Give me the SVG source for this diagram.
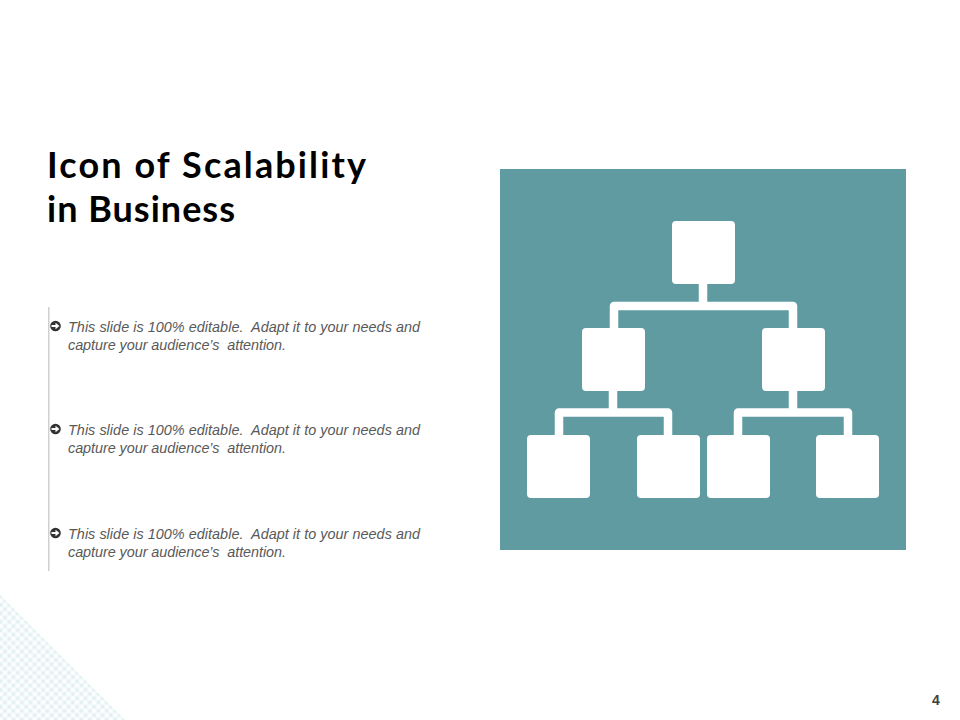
<svg xmlns="http://www.w3.org/2000/svg" width="960" height="720" viewBox="0 0 960 720">
<style>
.t{font-family:Lato,"Liberation Sans",sans-serif;font-size:36px;font-weight:700;fill:#000}
.b{font-family:"Liberation Sans",Arial,sans-serif;font-size:14.400px;font-style:italic;fill:#595959;white-space:pre}
.n{fill:#fff}
.c{fill:none;stroke:#fff;stroke-width:8.500;stroke-linejoin:round}
</style>
<defs>
<pattern id="dots" width="6" height="6" patternUnits="userSpaceOnUse" patternTransform="rotate(45 0 595)">
<rect width="6" height="6" fill="#f3f9fa"/>
<rect width="3" height="3" fill="#e1f0f2"/>
<rect x="3" y="3" width="3" height="3" fill="#fdfefe"/>
</pattern>
<g id="bul">
<circle cx="55.500" cy="0" r="5.300" fill="#333"/>
<path d="M51.500 -1H55.500V-3.200L59.500 0L55.500 3.200V1H51.500Z" fill="#fff"/>
</g>
</defs>
<rect width="960" height="720" fill="#fff"/>
<polygon points="0,595 125,720 0,720" fill="url(#dots)"/>
<text class="t" x="47" y="178" textLength="319">Icon of Scalability</text>
<text class="t" x="47" y="222" textLength="188">in Business</text>
<rect x="48" y="307" width="1.500" height="264" fill="#d0d0d0"/>
<g id="bullet-1">
<use href="#bul" y="326"/>
<text class="b" x="68" y="332" textLength="352">This slide is 100% editable.  Adapt it to your needs and</text>
<text class="b" x="68" y="350" textLength="218">capture your audience’s  attention.</text>
</g>
<g id="bullet-2">
<use href="#bul" y="429"/>
<text class="b" x="68" y="435" textLength="352">This slide is 100% editable.  Adapt it to your needs and</text>
<text class="b" x="68" y="453" textLength="218">capture your audience’s  attention.</text>
</g>
<g id="bullet-3">
<use href="#bul" y="533"/>
<text class="b" x="68" y="539" textLength="352">This slide is 100% editable.  Adapt it to your needs and</text>
<text class="b" x="68" y="557" textLength="218">capture your audience’s  attention.</text>
</g>
<rect id="panel" x="500" y="169" width="406" height="381" fill="#5f9ba1"/>
<g id="connectors">
<path class="c" d="M703 284V306M614 328V306H793V328"/>
<path class="c" d="M613 391V412.500M559 435V412.500H668V435"/>
<path class="c" d="M793 391V412.500M738 435V412.500H848V435"/>
</g>
<g id="node-top"><rect class="n" x="672" y="221" width="63" height="63" rx="4"/></g>
<g id="node-left"><rect class="n" x="582" y="328" width="63" height="63" rx="4"/></g>
<g id="node-right"><rect class="n" x="762" y="328" width="63" height="63" rx="4"/></g>
<g id="node-ll"><rect class="n" x="527" y="435" width="63" height="63" rx="4"/></g>
<g id="node-lr"><rect class="n" x="637" y="435" width="63" height="63" rx="4"/></g>
<g id="node-rl"><rect class="n" x="707" y="435" width="63" height="63" rx="4"/></g>
<g id="node-rr"><rect class="n" x="816" y="435" width="63" height="63" rx="4"/></g>
<text x="936" y="705" text-anchor="middle" font-family="Liberation Sans, Arial, sans-serif" font-size="14" font-weight="700" fill="#404040">4</text>
</svg>
